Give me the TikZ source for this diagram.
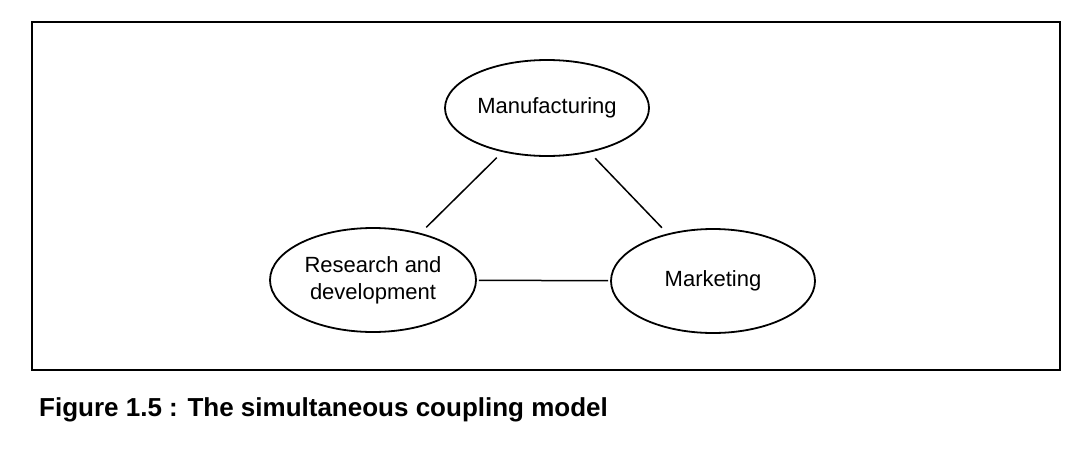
\documentclass[tikz,border=0pt]{standalone}
\usepackage{fontspec}
\setmainfont{Liberation Sans}
\usetikzlibrary{shapes.geometric}
\begin{document}
\begin{tikzpicture}[x=1pt,y=-1pt,
  oval/.style={draw,line width=1.8pt,ellipse,inner sep=0pt,font=\fontsize{22}{27}\selectfont,align=center},
  link/.style={line width=1.5pt,shorten <=8pt,shorten >=8pt}]
\useasboundingbox (0,0) rectangle (1083,455);
\draw[line width=1.8pt] (32,22) rectangle (1060,370);
\node[oval,minimum width=204pt,minimum height=96pt] (m) at (547,108) {Manufacturing};
\node[oval,minimum width=206pt,minimum height=104pt] (r) at (373,280) {Research and\\development};
\node[oval,minimum width=204pt,minimum height=104pt] (k) at (713,281) {Marketing};
\draw[link] (m) -- (r);
\draw[link] (m) -- (k);
\draw[link,shorten <=2pt,shorten >=2pt] (r) -- (k);
\node[anchor=west,font=\fontsize{26}{31}\selectfont\bfseries,inner sep=0pt] (cap) at (39,410) {Figure 1.5 : The simultaneous coupling model};
\end{tikzpicture}
\end{document}
